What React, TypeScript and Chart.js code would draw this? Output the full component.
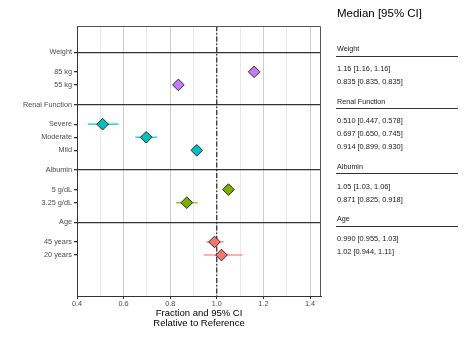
import { useEffect, useRef } from 'react';
import { Chart, registerables } from 'chart.js';

Chart.register(...registerables);

// ---- data ----
const GROUPS = ['Weight', 'Renal Function', 'Albumin', 'Age'];
const GROUP_COLORS = ['#C77CFF', '#00BFC4', '#7CAE00', '#F8766D'];
const LEVELS = ['85 kg', '55 kg', 'Severe', 'Moderate', 'Mild', '5 g/dL', '3.25 g/dL', '45 years', '20 years'];
const LEVEL_GROUP = [0, 0, 1, 1, 1, 2, 2, 3, 3];
const MEDIAN = [1.16, 0.835, 0.51, 0.697, 0.914, 1.05, 0.871, 0.99, 1.02];
const LOWER = [1.16, 0.835, 0.447, 0.65, 0.899, 1.03, 0.825, 0.955, 0.944];
const UPPER = [1.16, 0.835, 0.578, 0.745, 0.93, 1.06, 0.918, 1.03, 1.11];
const X_TICKS = [0.4, 0.5, 0.6, 0.7, 0.8, 0.9, 1.0, 1.1, 1.2, 1.3, 1.4];
const X_TICK_LABELS = ['0.4', '', '0.6', '', '0.8', '', '1.0', '', '1.2', '', '1.4'];
const REFERENCE = 1.0;
const TABLE_TITLE = 'Median [95% CI]';
const X_TITLE = ['Fraction and 95% CI', 'Relative to Reference'];

const FONT = 'Liberation Sans, Arial, Helvetica, sans-serif';

function withAlpha(hex: string, a: number) {
  const r = parseInt(hex.slice(1, 3), 16);
  const g = parseInt(hex.slice(3, 5), 16);
  const b = parseInt(hex.slice(5, 7), 16);
  return `rgba(${r},${g},${b},${a})`;
}

// row layout (category ordering, in row units)
const headerPos: number[] = [];
const levelPos: number[] = [];
{
  let p = 0;
  GROUPS.forEach((_, g) => {
    headerPos.push(p);
    const lv = LEVEL_GROUP.map((gg, i) => (gg === g ? i : -1)).filter((i) => i >= 0);
    lv.forEach((i, k) => {
      levelPos[i] = p + 1.5 + k;
    });
    p = p + 1.5 + lv.length - 1 + 1.5;
  });
}
const ALL_POS = [...headerPos, ...levelPos].sort((a, b) => a - b);
const labelAt = (v: number) => {
  const h = headerPos.indexOf(v);
  if (h >= 0) return GROUPS[h];
  const l = levelPos.indexOf(v);
  return l >= 0 ? LEVELS[l] : '';
};
const Y_MIN = -2;
const Y_MAX = 18.63;

const fmt = (v: number) => v.toPrecision(3);

export default function App() {
  const ref = useRef<HTMLCanvasElement>(null);

  useEffect(() => {
    if (!ref.current) return;

    const framePlugin = {
      id: 'frameAndTable',
      afterDraw(chart: any) {
        const { ctx, chartArea: a, scales } = chart;
        const ys = scales.y;
        ctx.save();
        // top & right panel border
        ctx.strokeStyle = '#555';
        ctx.lineWidth = 1;
        ctx.beginPath();
        ctx.moveTo(a.left, a.top + 0.5);
        ctx.lineTo(a.right - 0.5, a.top + 0.5);
        ctx.lineTo(a.right - 0.5, a.bottom);
        ctx.stroke();

        // table
        const tx = 337;
        ctx.fillStyle = '#000';
        ctx.textAlign = 'left';
        ctx.textBaseline = 'middle';
        ctx.font = `11.5px ${FONT}`;
        ctx.fillText(TABLE_TITLE, tx, 14);
        GROUPS.forEach((g, gi) => {
          const hy = ys.getPixelForValue(headerPos[gi]) - 3;
          ctx.font = `7.2px ${FONT}`;
          ctx.fillStyle = '#1a1a1a';
          ctx.fillText(g, tx, hy);
          ctx.strokeStyle = '#333';
          ctx.lineWidth = 1.2;
          ctx.beginPath();
          ctx.moveTo(336, Math.round(hy + 6.5) + 0.5);
          ctx.lineTo(458, Math.round(hy + 6.5) + 0.5);
          ctx.stroke();
        });
        ctx.font = `7.4px ${FONT}`;
        ctx.fillStyle = '#1a1a1a';
        LEVELS.forEach((_, i) => {
          const y = ys.getPixelForValue(levelPos[i]) - 3;
          ctx.fillText(`${fmt(MEDIAN[i])} [${fmt(LOWER[i])}, ${fmt(UPPER[i])}]`, tx, y);
        });
        ctx.restore();
      },
    };

    const errorSets = LEVELS.map((_, i) => ({
      type: 'line' as const,
      data: [
        { x: LOWER[i], y: levelPos[i] },
        { x: UPPER[i], y: levelPos[i] },
      ],
      borderColor: withAlpha(GROUP_COLORS[LEVEL_GROUP[i]], 0.75),
      borderWidth: 1.6,
      pointRadius: 0,
      showLine: true,
      order: 2,
    }));

    const chart = new Chart(ref.current, {
      type: 'scatter',
      data: {
        datasets: [
          {
            type: 'scatter',
            data: LEVELS.map((_, i) => ({ x: MEDIAN[i], y: levelPos[i] })),
            pointStyle: 'rectRot',
            pointRadius: 5.8,
            pointBackgroundColor: LEVELS.map((_, i) => GROUP_COLORS[LEVEL_GROUP[i]]),
            pointBorderColor: '#1a1a1a',
            pointBorderWidth: 0.9,
            order: 0,
          } as any,
          ...errorSets,
          {
            type: 'line',
            data: [
              { x: REFERENCE, y: Y_MIN },
              { x: REFERENCE, y: Y_MAX },
            ],
            borderColor: '#000',
            borderWidth: 1,
            borderDash: [5, 2, 1.5, 2],
            pointRadius: 0,
            showLine: true,
            order: 1,
          } as any,
        ],
      },
      options: {
        animation: false,
        responsive: false,
        devicePixelRatio: 1,
        layout: { padding: { left: 0, top: 26, right: 153, bottom: 0 } },
        plugins: { legend: { display: false }, tooltip: { enabled: false } },
        scales: {
          x: {
            type: 'linear',
            min: 0.4,
            max: 1.447,
            afterBuildTicks: (s: any) => {
              s.ticks = X_TICKS.map((v) => ({ value: v }));
            },
            afterFit: (s: any) => {
              s.height = 42;
            },
            ticks: {
              autoSkip: false,
              maxRotation: 0,
              padding: 1,
              color: '#4d4d4d',
              font: { family: FONT, size: 7.3 },
              callback: (_v: any, i: number) => X_TICK_LABELS[i],
            },
            grid: {
              color: (c: any) => (X_TICK_LABELS[c.index] ? '#cfcfcf' : '#e8e8e8'),
              tickColor: (c: any) => (X_TICK_LABELS[c.index] ? '#333' : 'rgba(0,0,0,0)'),
              tickLength: 3,
              lineWidth: 1,
            },
            border: { color: '#333', width: 1 },
            title: {
              display: true,
              text: X_TITLE,
              color: '#000',
              font: { family: FONT, size: 9.5, lineHeight: 1.05 },
              padding: { top: 0, bottom: 10 },
            },
          },
          y: {
            type: 'linear',
            reverse: true,
            min: Y_MIN,
            max: Y_MAX,
            afterBuildTicks: (s: any) => {
              s.ticks = ALL_POS.map((v) => ({ value: v }));
            },
            afterFit: (s: any) => {
              s.width = 77;
            },
            ticks: {
              autoSkip: false,
              padding: 2,
              color: '#4d4d4d',
              font: { family: FONT, size: 7.3 },
              callback: (v: any) => labelAt(Number(v)),
            },
            grid: {
              color: (c: any) => (headerPos.includes(c.tick?.value) ? '#333' : 'rgba(0,0,0,0)'),
              tickColor: '#333',
              tickLength: 3,
              lineWidth: 1.3,
            },
            border: { color: '#333', width: 1 },
          },
        },
      },
      plugins: [framePlugin],
    } as any);

    return () => chart.destroy();
  }, []);

  return (
    <div style={{ position: 'fixed', left: 0, top: 0, width: 474, height: 338, background: '#fff' }}>
      <canvas ref={ref} width={474} height={338} style={{ display: 'block', width: 474, height: 338 }} />
    </div>
  );
}
